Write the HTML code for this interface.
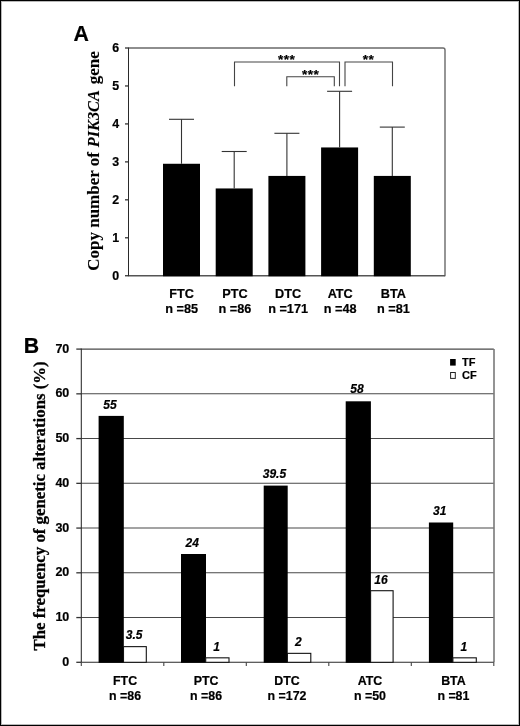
<!DOCTYPE html>
<html><head><meta charset="utf-8"><title>Figure</title>
<style>
html,body{margin:0;padding:0;background:#fff}
svg{display:block}
.s{font-family:"Liberation Sans",Arial,sans-serif;font-weight:bold;fill:#000;stroke:#000;stroke-width:0.2px}
.t{font-family:"Liberation Serif","Times New Roman",serif;font-weight:bold;fill:#000;stroke:#000;stroke-width:0.12px}
</style></head><body>
<svg width="520" height="726" viewBox="0 0 520 726">
<rect x="0" y="0" width="520" height="726" fill="#fff"/>
<rect x="1.5" y="1.5" width="517" height="723" fill="none" stroke="#b8b8b8" stroke-width="1" shape-rendering="crispEdges"/>
<rect x="0.5" y="0.5" width="519" height="725" fill="none" stroke="#000" stroke-width="1" shape-rendering="crispEdges"/>
<path d="M128.5 48 H443 Q445 48 445 50 V276.25" fill="none" stroke="#6a6a6a" stroke-width="1.4"/>
<path d="M128.5 275.75 H445" fill="none" stroke="#555" stroke-width="1.3"/>
<path d="M128.5 47.5 V276.25" fill="none" stroke="#2a2a2a" stroke-width="1.05"/>
<line x1="125.0" y1="275.75" x2="128.5" y2="275.75" stroke="#333" stroke-width="1.3"/>
<text class="s" x="119.2" y="279.65" font-size="12.4" text-anchor="end">0</text>
<line x1="125.0" y1="237.79" x2="128.5" y2="237.79" stroke="#333" stroke-width="1.3"/>
<text class="s" x="119.2" y="241.69" font-size="12.4" text-anchor="end">1</text>
<line x1="125.0" y1="199.83" x2="128.5" y2="199.83" stroke="#333" stroke-width="1.3"/>
<text class="s" x="119.2" y="203.73" font-size="12.4" text-anchor="end">2</text>
<line x1="125.0" y1="161.88" x2="128.5" y2="161.88" stroke="#333" stroke-width="1.3"/>
<text class="s" x="119.2" y="165.78" font-size="12.4" text-anchor="end">3</text>
<line x1="125.0" y1="123.92" x2="128.5" y2="123.92" stroke="#333" stroke-width="1.3"/>
<text class="s" x="119.2" y="127.82" font-size="12.4" text-anchor="end">4</text>
<line x1="125.0" y1="85.96" x2="128.5" y2="85.96" stroke="#333" stroke-width="1.3"/>
<text class="s" x="119.2" y="89.86" font-size="12.4" text-anchor="end">5</text>
<line x1="125.0" y1="48.00" x2="128.5" y2="48.00" stroke="#333" stroke-width="1.3"/>
<text class="s" x="119.2" y="51.90" font-size="12.4" text-anchor="end">6</text>
<text class="s" x="73.4" y="40.8" font-size="21.3">A</text>
<g transform="translate(98.8 0) rotate(-90)"><text class="t" x="-270.8" y="0" font-size="17">Copy number of</text><text class="t" transform="translate(-118.7 0) scale(0.97 1)" x="0" y="0" font-size="16.8" font-style="italic" text-anchor="middle" style="stroke-width:0.12px">PIK3CA</text><text class="t" x="-51.2" y="0" font-size="17" text-anchor="end">gene</text></g>
<rect x="163.00" y="163.77" width="37" height="112.48" fill="#000"/>
<line x1="181.50" y1="119.30" x2="181.50" y2="163.77" stroke="#333" stroke-width="1.1"/>
<line x1="169.00" y1="119.30" x2="194.00" y2="119.30" stroke="#333" stroke-width="1.1"/>
<text class="s" x="181.70" y="297.7" font-size="12.7" text-anchor="middle">FTC</text>
<text class="s" x="181.70" y="313.1" font-size="12.7" text-anchor="middle">n =85</text>
<rect x="215.70" y="188.45" width="37" height="87.80" fill="#000"/>
<line x1="234.20" y1="151.50" x2="234.20" y2="188.45" stroke="#333" stroke-width="1.1"/>
<line x1="221.70" y1="151.50" x2="246.70" y2="151.50" stroke="#333" stroke-width="1.1"/>
<text class="s" x="235.00" y="297.7" font-size="12.7" text-anchor="middle">PTC</text>
<text class="s" x="235.00" y="313.1" font-size="12.7" text-anchor="middle">n =86</text>
<rect x="268.40" y="175.92" width="37" height="100.33" fill="#000"/>
<line x1="286.90" y1="133.30" x2="286.90" y2="175.92" stroke="#333" stroke-width="1.1"/>
<line x1="274.40" y1="133.30" x2="299.40" y2="133.30" stroke="#333" stroke-width="1.1"/>
<text class="s" x="288.10" y="297.7" font-size="12.7" text-anchor="middle">DTC</text>
<text class="s" x="288.10" y="313.1" font-size="12.7" text-anchor="middle">n =171</text>
<rect x="321.10" y="147.45" width="37" height="128.80" fill="#000"/>
<line x1="339.60" y1="91.30" x2="339.60" y2="147.45" stroke="#333" stroke-width="1.1"/>
<line x1="327.10" y1="91.30" x2="352.10" y2="91.30" stroke="#333" stroke-width="1.1"/>
<text class="s" x="340.20" y="297.7" font-size="12.7" text-anchor="middle">ATC</text>
<text class="s" x="340.20" y="313.1" font-size="12.7" text-anchor="middle">n =48</text>
<rect x="373.80" y="175.92" width="37" height="100.33" fill="#000"/>
<line x1="392.30" y1="127.10" x2="392.30" y2="175.92" stroke="#333" stroke-width="1.1"/>
<line x1="379.80" y1="127.10" x2="404.80" y2="127.10" stroke="#333" stroke-width="1.1"/>
<text class="s" x="393.40" y="297.7" font-size="12.7" text-anchor="middle">BTA</text>
<text class="s" x="393.40" y="313.1" font-size="12.7" text-anchor="middle">n =81</text>
<path d="M234.5 86.3 V62 H339.5 V86.3" fill="none" stroke="#444" stroke-width="1.1"/>
<path d="M286.8 86.3 V76.8 H334.3 V86.3" fill="none" stroke="#444" stroke-width="1.1"/>
<path d="M345 86.3 V62 H392.5 V86.3" fill="none" stroke="#444" stroke-width="1.1"/>
<text class="s" x="286.7" y="63.8" font-size="13.6" letter-spacing="0.45" stroke="#000" stroke-width="0.45" text-anchor="middle">***</text>
<text class="s" x="310.6" y="78.8" font-size="13.6" letter-spacing="0.45" stroke="#000" stroke-width="0.45" text-anchor="middle">***</text>
<text class="s" x="368.6" y="63.8" font-size="13.6" letter-spacing="0.45" stroke="#000" stroke-width="0.45" text-anchor="middle">**</text>
<line x1="76.3" y1="662.30" x2="81.3" y2="662.30" stroke="#333" stroke-width="1.3"/>
<text class="s" x="69.3" y="665.80" font-size="12.5" text-anchor="end">0</text>
<line x1="81.3" y1="617.56" x2="493.8" y2="617.56" stroke="#484848" stroke-width="1.05"/>
<line x1="76.3" y1="617.56" x2="81.3" y2="617.56" stroke="#333" stroke-width="1.3"/>
<text class="s" x="69.3" y="621.06" font-size="12.5" text-anchor="end">10</text>
<line x1="81.3" y1="572.81" x2="493.8" y2="572.81" stroke="#484848" stroke-width="1.05"/>
<line x1="76.3" y1="572.81" x2="81.3" y2="572.81" stroke="#333" stroke-width="1.3"/>
<text class="s" x="69.3" y="576.31" font-size="12.5" text-anchor="end">20</text>
<line x1="81.3" y1="528.07" x2="493.8" y2="528.07" stroke="#484848" stroke-width="1.05"/>
<line x1="76.3" y1="528.07" x2="81.3" y2="528.07" stroke="#333" stroke-width="1.3"/>
<text class="s" x="69.3" y="531.57" font-size="12.5" text-anchor="end">30</text>
<line x1="81.3" y1="483.33" x2="493.8" y2="483.33" stroke="#484848" stroke-width="1.05"/>
<line x1="76.3" y1="483.33" x2="81.3" y2="483.33" stroke="#333" stroke-width="1.3"/>
<text class="s" x="69.3" y="486.83" font-size="12.5" text-anchor="end">40</text>
<line x1="81.3" y1="438.59" x2="493.8" y2="438.59" stroke="#484848" stroke-width="1.05"/>
<line x1="76.3" y1="438.59" x2="81.3" y2="438.59" stroke="#333" stroke-width="1.3"/>
<text class="s" x="69.3" y="442.09" font-size="12.5" text-anchor="end">50</text>
<line x1="81.3" y1="393.84" x2="493.8" y2="393.84" stroke="#484848" stroke-width="1.05"/>
<line x1="76.3" y1="393.84" x2="81.3" y2="393.84" stroke="#333" stroke-width="1.3"/>
<text class="s" x="69.3" y="397.34" font-size="12.5" text-anchor="end">60</text>
<line x1="81.3" y1="349.10" x2="493.8" y2="349.10" stroke="#484848" stroke-width="1.05"/>
<line x1="76.3" y1="349.10" x2="81.3" y2="349.10" stroke="#333" stroke-width="1.3"/>
<text class="s" x="69.3" y="352.60" font-size="12.5" text-anchor="end">70</text>
<line x1="494.0" y1="349.1" x2="494.0" y2="662.3" stroke="#707070" stroke-width="1.5"/>
<path d="M81.3 348.6 V662.3 H493.8" fill="none" stroke="#2a2a2a" stroke-width="1.05"/>
<line x1="81.30" y1="662.3" x2="81.30" y2="666.0999999999999" stroke="#444" stroke-width="1.1"/>
<line x1="163.80" y1="662.3" x2="163.80" y2="666.0999999999999" stroke="#444" stroke-width="1.1"/>
<line x1="246.30" y1="662.3" x2="246.30" y2="666.0999999999999" stroke="#444" stroke-width="1.1"/>
<line x1="328.80" y1="662.3" x2="328.80" y2="666.0999999999999" stroke="#444" stroke-width="1.1"/>
<line x1="411.30" y1="662.3" x2="411.30" y2="666.0999999999999" stroke="#444" stroke-width="1.1"/>
<line x1="493.80" y1="662.3" x2="493.80" y2="666.0999999999999" stroke="#444" stroke-width="1.1"/>
<text class="s" x="23.7" y="353" font-size="21.3">B</text>
<text class="t" transform="translate(44.6 505.9) rotate(-90)" font-size="16.8" text-anchor="middle" style="stroke-width:0.3px">The frequency of genetic alterations (%)</text>
<rect x="98.60" y="415.90" width="25.20" height="246.90" fill="#000"/>
<rect x="123.50" y="646.64" width="22.80" height="15.66" fill="#fff" stroke="#111" stroke-width="1.1"/>
<text class="s" x="109.90" y="408.50" font-size="12" font-style="italic" text-anchor="middle">55</text>
<text class="s" x="134.10" y="639.44" font-size="12" font-style="italic" text-anchor="middle">3.5</text>
<text class="s" x="125.10" y="684.8" font-size="12.4" text-anchor="middle">FTC</text>
<text class="s" x="125.10" y="699.9" font-size="12.4" text-anchor="middle">n =86</text>
<rect x="181.00" y="554.00" width="25.00" height="108.80" fill="#000"/>
<rect x="205.70" y="657.83" width="23.30" height="4.47" fill="#fff" stroke="#111" stroke-width="1.1"/>
<text class="s" x="192.20" y="547.10" font-size="12" font-style="italic" text-anchor="middle">24</text>
<text class="s" x="216.55" y="650.63" font-size="12" font-style="italic" text-anchor="middle">1</text>
<text class="s" x="206.10" y="684.8" font-size="12.4" text-anchor="middle">PTC</text>
<text class="s" x="206.10" y="699.9" font-size="12.4" text-anchor="middle">n =86</text>
<rect x="263.70" y="485.60" width="24.00" height="177.20" fill="#000"/>
<rect x="287.40" y="653.35" width="23.40" height="8.95" fill="#fff" stroke="#111" stroke-width="1.1"/>
<text class="s" x="274.40" y="477.90" font-size="12" font-style="italic" text-anchor="middle">39.5</text>
<text class="s" x="298.30" y="646.15" font-size="12" font-style="italic" text-anchor="middle">2</text>
<text class="s" x="287.00" y="684.8" font-size="12.4" text-anchor="middle">DTC</text>
<text class="s" x="287.00" y="699.9" font-size="12.4" text-anchor="middle">n =172</text>
<rect x="345.70" y="401.30" width="25.20" height="261.50" fill="#000"/>
<rect x="370.60" y="590.71" width="22.50" height="71.59" fill="#fff" stroke="#111" stroke-width="1.1"/>
<text class="s" x="357.00" y="393.30" font-size="12" font-style="italic" text-anchor="middle">58</text>
<text class="s" x="381.05" y="583.51" font-size="12" font-style="italic" text-anchor="middle">16</text>
<text class="s" x="370.00" y="684.8" font-size="12.4" text-anchor="middle">ATC</text>
<text class="s" x="370.00" y="699.9" font-size="12.4" text-anchor="middle">n =50</text>
<rect x="428.90" y="522.50" width="24.30" height="140.30" fill="#000"/>
<rect x="452.90" y="657.83" width="23.40" height="4.47" fill="#fff" stroke="#111" stroke-width="1.1"/>
<text class="s" x="439.75" y="515.30" font-size="12" font-style="italic" text-anchor="middle">31</text>
<text class="s" x="463.80" y="650.63" font-size="12" font-style="italic" text-anchor="middle">1</text>
<text class="s" x="453.40" y="684.8" font-size="12.4" text-anchor="middle">BTA</text>
<text class="s" x="453.40" y="699.9" font-size="12.4" text-anchor="middle">n =81</text>
<rect x="450.1" y="359" width="5.6" height="6.6" fill="#000"/>
<rect x="450.6" y="372.5" width="4.7" height="5.9" fill="#fff" stroke="#222" stroke-width="1"/>
<text class="s" x="462" y="365.8" font-size="11">TF</text>
<text class="s" x="462" y="379.3" font-size="11">CF</text>
</svg>
</body></html>
